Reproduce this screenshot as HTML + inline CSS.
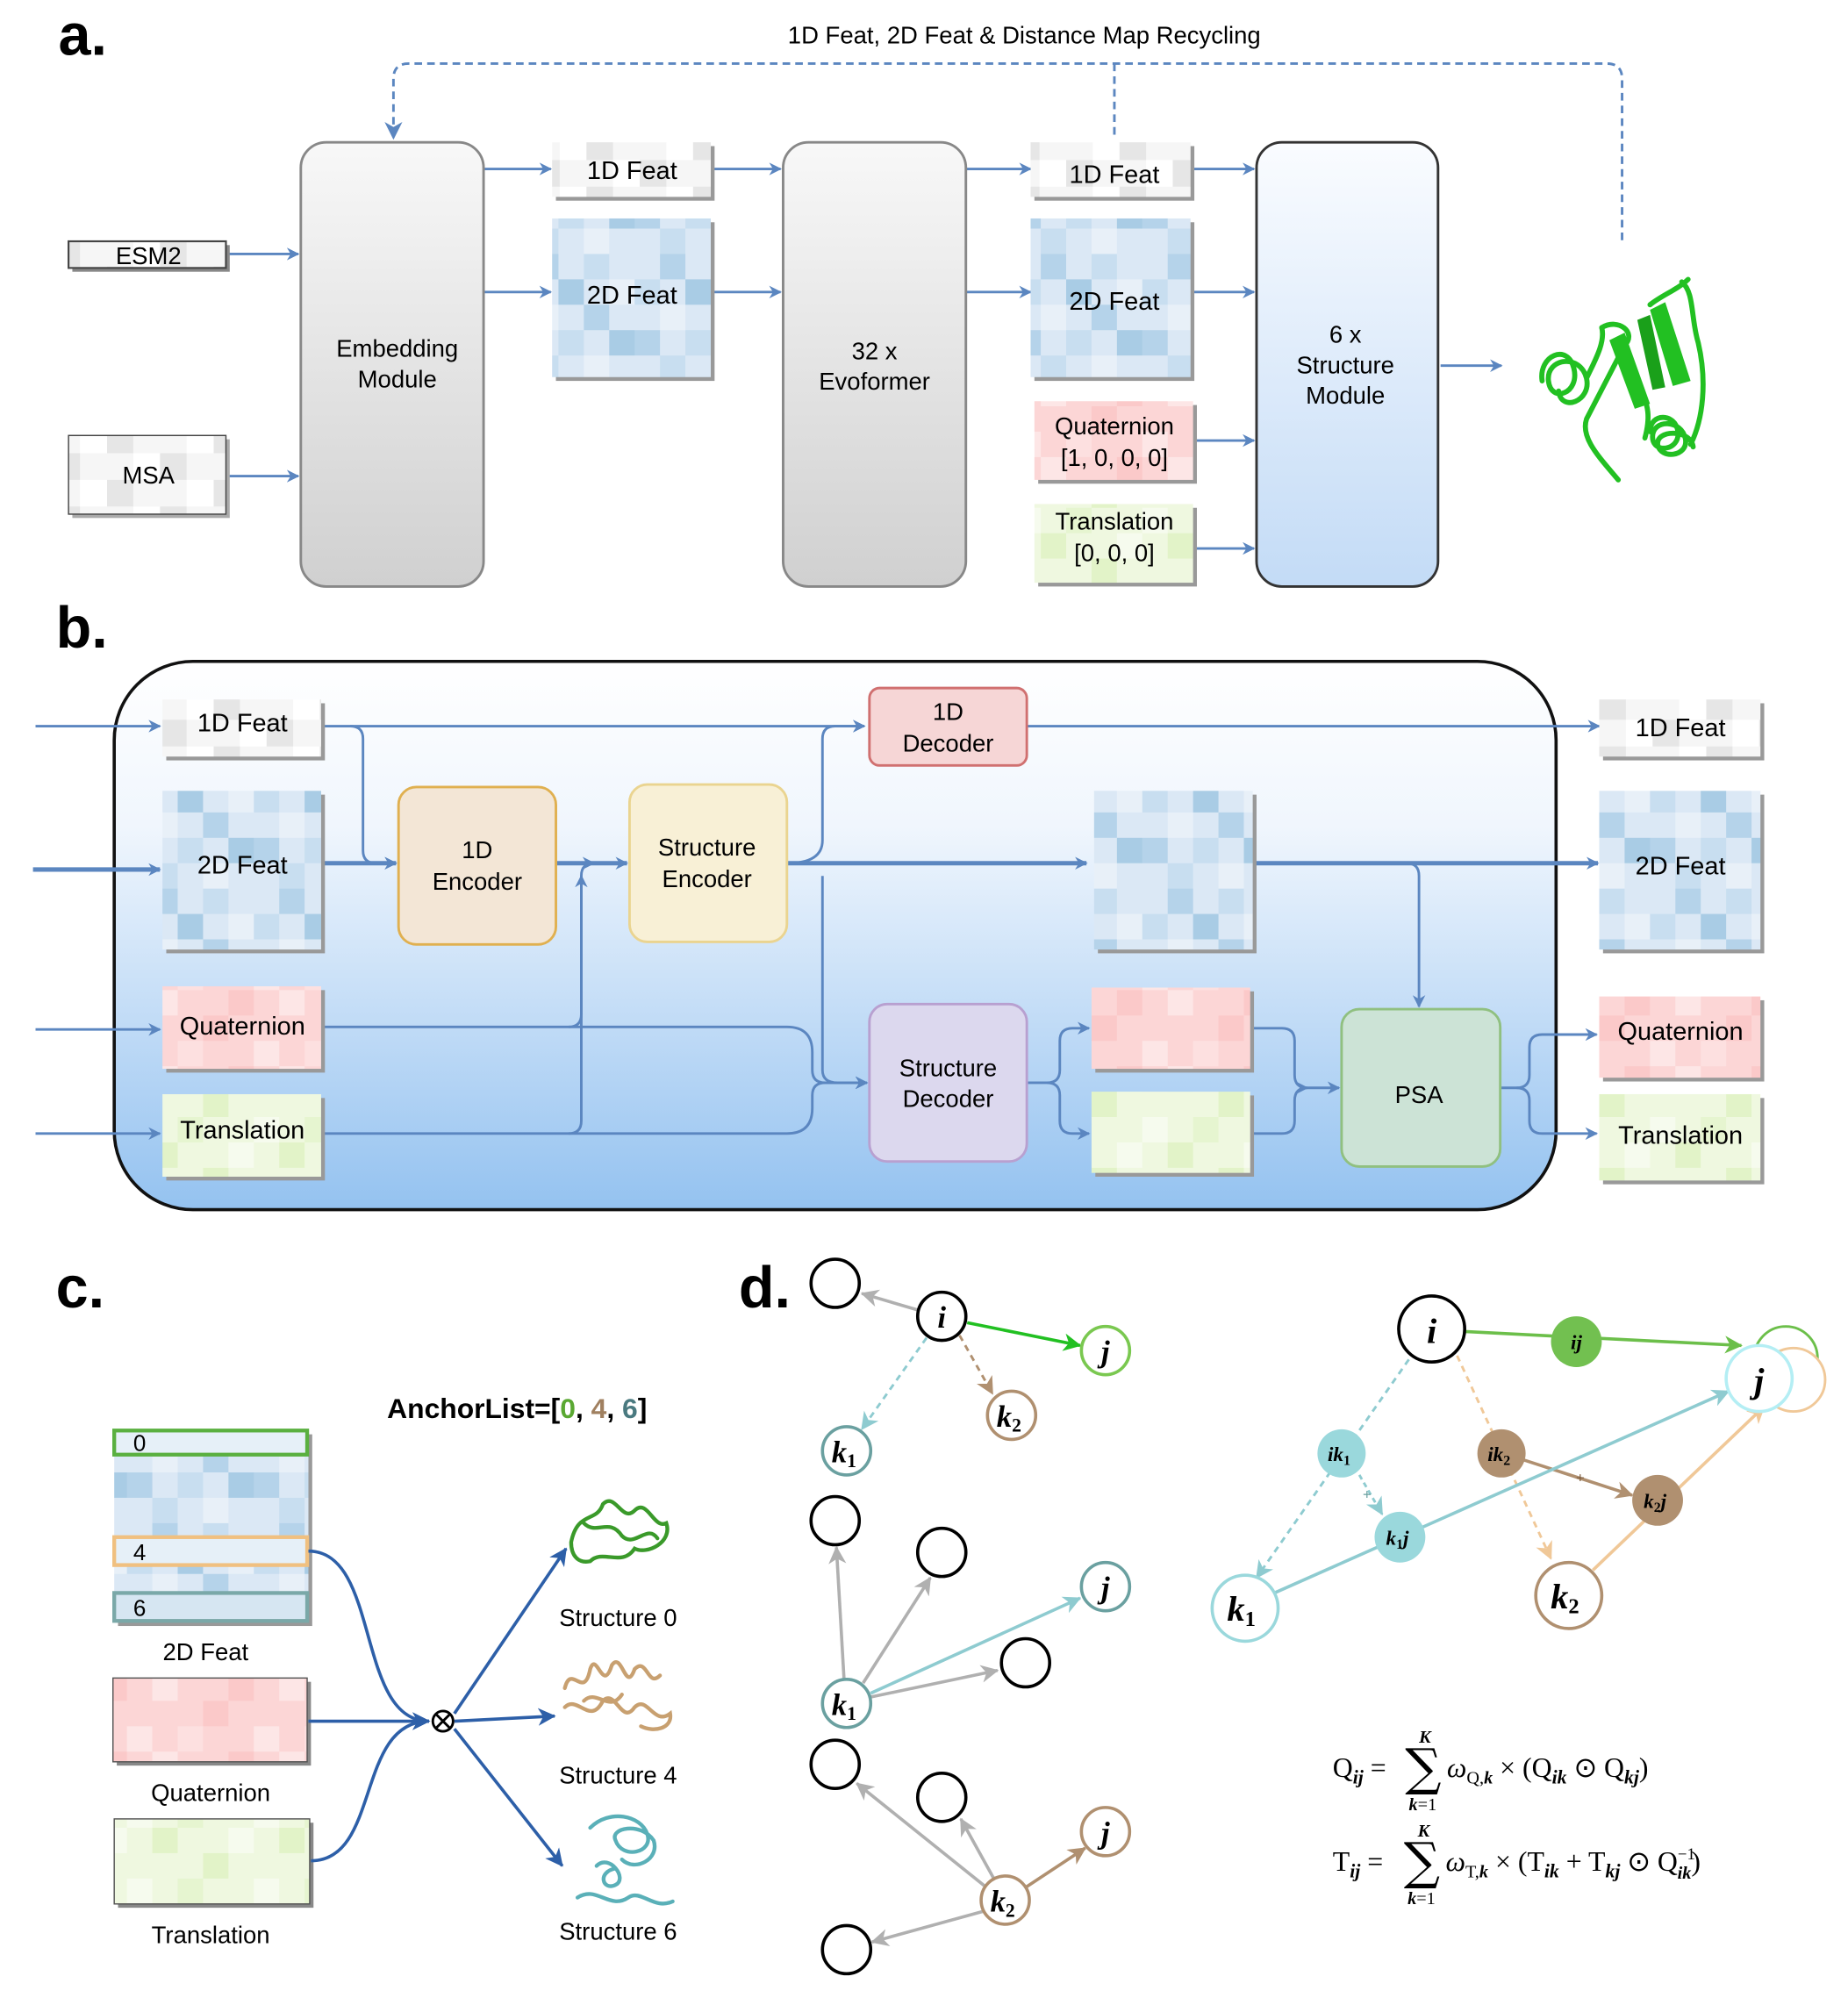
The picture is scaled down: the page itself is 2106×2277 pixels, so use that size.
<!DOCTYPE html>
<html><head><meta charset="utf-8"><style>html,body{margin:0;padding:0;background:#fff}svg{display:block}</style></head><body>
<svg xmlns="http://www.w3.org/2000/svg" width="2106" height="2277" viewBox="0 0 1456 1574" font-family="Liberation Sans, sans-serif">
<defs>
<pattern id="pb" width="100" height="100" patternUnits="userSpaceOnUse">
<rect width="100" height="100" fill="#dbe8f5"/>
<rect x="20" y="0" width="20" height="20" fill="#b5d3ea"/><rect x="60" y="0" width="20" height="20" fill="#c8def0"/>
<rect x="0" y="20" width="20" height="20" fill="#c8def0"/><rect x="40" y="20" width="20" height="20" fill="#a9cce5"/><rect x="80" y="20" width="20" height="20" fill="#e8f0f8"/>
<rect x="20" y="40" width="20" height="20" fill="#e8f0f8"/><rect x="60" y="40" width="20" height="20" fill="#b5d3ea"/>
<rect x="0" y="60" width="20" height="20" fill="#b5d3ea"/><rect x="40" y="60" width="20" height="20" fill="#c8def0"/><rect x="80" y="60" width="20" height="20" fill="#a9cce5"/>
<rect x="20" y="80" width="20" height="20" fill="#c8def0"/><rect x="60" y="80" width="20" height="20" fill="#e8f0f8"/>
</pattern>
<pattern id="pp" width="100" height="60" patternUnits="userSpaceOnUse">
<rect width="100" height="60" fill="#fcd6d6"/>
<rect x="20" y="0" width="20" height="20" fill="#fde6e6"/><rect x="60" y="20" width="20" height="20" fill="#fbc9c9"/>
<rect x="0" y="40" width="20" height="20" fill="#fde6e6"/><rect x="80" y="0" width="20" height="20" fill="#fbc9c9"/><rect x="40" y="40" width="20" height="20" fill="#fde0e0"/>
</pattern>
<pattern id="pg" width="100" height="60" patternUnits="userSpaceOnUse">
<rect width="100" height="60" fill="#eff8e0"/>
<rect x="20" y="0" width="20" height="20" fill="#e2f3c8"/><rect x="60" y="20" width="20" height="20" fill="#e2f3c8"/>
<rect x="0" y="40" width="20" height="20" fill="#f6fbee"/><rect x="80" y="0" width="20" height="20" fill="#f6fbee"/><rect x="40" y="40" width="20" height="20" fill="#e6f5d0"/>
</pattern>
<pattern id="pk" width="84" height="42" patternUnits="userSpaceOnUse">
<rect width="84" height="42" fill="#f6f6f6"/>
<rect x="0" y="0" width="21" height="21" fill="#e6e6e6"/><rect x="42" y="21" width="21" height="21" fill="#e6e6e6"/><rect x="63" y="0" width="21" height="21" fill="#fff"/><rect x="21" y="21" width="21" height="21" fill="#fff"/>
</pattern>
<linearGradient id="ggrey" x1="0" y1="0" x2="0" y2="1"><stop offset="0" stop-color="#f8f8f8"/><stop offset="1" stop-color="#d0d0d0"/></linearGradient>
<linearGradient id="gblue" x1="0" y1="0" x2="0" y2="1"><stop offset="0" stop-color="#fafcff"/><stop offset="1" stop-color="#c3dbf6"/></linearGradient>
<linearGradient id="gbig" x1="0" y1="0" x2="0" y2="1"><stop offset="0" stop-color="#ffffff"/><stop offset="0.3" stop-color="#f0f6fd"/><stop offset="1" stop-color="#94c2f0"/></linearGradient>
<marker id="ab" markerWidth="10" markerHeight="10" refX="9" refY="5" orient="auto" markerUnits="userSpaceOnUse"><path d="M0,0 L10,5 L0,10 L3,5z" fill="#5b86c0"/></marker>
<marker id="ad" markerWidth="14" markerHeight="14" refX="13" refY="7" orient="auto" markerUnits="userSpaceOnUse"><path d="M0,0 L14,7 L0,14 L4,7z" fill="#2d5fa8"/></marker>
<marker id="agr" markerWidth="14" markerHeight="14" refX="13" refY="7" orient="auto" markerUnits="userSpaceOnUse"><path d="M0,0 L14,7 L0,14 L4,7z" fill="#b0b0b0"/></marker>
<marker id="agn" markerWidth="14" markerHeight="14" refX="13" refY="7" orient="auto" markerUnits="userSpaceOnUse"><path d="M0,0 L14,7 L0,14 L4,7z" fill="#22c022"/></marker>
<marker id="agn2" markerWidth="14" markerHeight="14" refX="13" refY="7" orient="auto" markerUnits="userSpaceOnUse"><path d="M0,0 L14,7 L0,14 L4,7z" fill="#6cbf4a"/></marker>
<marker id="atl" markerWidth="14" markerHeight="14" refX="13" refY="7" orient="auto" markerUnits="userSpaceOnUse"><path d="M0,0 L14,7 L0,14 L4,7z" fill="#8ecbd0"/></marker>
<marker id="atn" markerWidth="14" markerHeight="14" refX="13" refY="7" orient="auto" markerUnits="userSpaceOnUse"><path d="M0,0 L14,7 L0,14 L4,7z" fill="#b09070"/></marker>
<marker id="aor" markerWidth="14" markerHeight="14" refX="13" refY="7" orient="auto" markerUnits="userSpaceOnUse"><path d="M0,0 L14,7 L0,14 L4,7z" fill="#f0c898"/></marker>
</defs>
<rect width="1456" height="1574" fill="#fff"/>

<!-- Panel a -->
<text x="46" y="43" font-size="46" font-weight="bold">a.</text>
<text x="807" y="34" font-size="19" text-anchor="middle">1D Feat, 2D Feat &amp; Distance Map Recycling</text>
<path d="M310,108 V62 Q310,50 322,50 H1266 Q1278,50 1278,62 V192" fill="none" stroke="#5b86c0" stroke-width="2" stroke-dasharray="6,4"/>
<path d="M878,50 V108" fill="none" stroke="#5b86c0" stroke-width="2" stroke-dasharray="6,4"/>
<path d="M303,96 L310,110 L317,96 L310,100z" fill="#5b86c0"/>

<g fill="none" stroke="#5b86c0" stroke-width="2" marker-end="url(#ab)">
<path d="M178,200 H235"/><path d="M178,375 H235"/>
<path d="M381,133 H434"/><path d="M381,230 H434"/>
<path d="M560,133 H615"/><path d="M560,230 H615"/>
<path d="M761,133 H812"/><path d="M761,230 H812"/>
<path d="M938,133 H988"/><path d="M938,230 H988"/><path d="M940,347 H988"/><path d="M940,432 H988"/>
<path d="M1135,288 H1183"/>
</g>
<rect x="57" y="193" width="124" height="21" fill="#888"/><rect x="54" y="190" width="124" height="21" fill="url(#pk)" stroke="#444" stroke-width="1.5"/>
<text x="117" y="208" font-size="19" text-anchor="middle">ESM2</text>
<rect x="57" y="346" width="124" height="62" fill="#aaa"/><rect x="54" y="343" width="124" height="62" fill="url(#pk)" stroke="#444" stroke-width="1"/>
<text x="117" y="381" font-size="19" text-anchor="middle">MSA</text>

<rect x="237" y="112" width="144" height="350" rx="20" fill="url(#ggrey)" stroke="#888" stroke-width="2"/>
<text x="313" y="281" font-size="19" text-anchor="middle">Embedding</text><text x="313" y="305" font-size="19" text-anchor="middle">Module</text>
<rect x="617" y="112" width="144" height="350" rx="20" fill="url(#ggrey)" stroke="#888" stroke-width="2"/>
<text x="689" y="283" font-size="19" text-anchor="middle">32 x</text><text x="689" y="307" font-size="19" text-anchor="middle">Evoformer</text>
<rect x="990" y="112" width="143" height="350" rx="20" fill="url(#gblue)" stroke="#333" stroke-width="2"/>
<text x="1060" y="270" font-size="19" text-anchor="middle">6 x</text><text x="1060" y="294" font-size="19" text-anchor="middle">Structure</text><text x="1060" y="318" font-size="19" text-anchor="middle">Module</text>

<g>
<rect x="438" y="115" width="125" height="43" fill="#999"/><rect x="435" y="112" width="125" height="43" fill="url(#pk)"/><text x="498" y="141" font-size="20" text-anchor="middle">1D Feat</text>
<rect x="438" y="175" width="125" height="125" fill="#999"/><rect x="435" y="172" width="125" height="125" fill="url(#pb)"/><text x="498" y="239" font-size="20" text-anchor="middle">2D Feat</text>
<rect x="815" y="115" width="126" height="43" fill="#999"/><rect x="812" y="112" width="126" height="43" fill="url(#pk)"/><text x="878" y="144" font-size="20" text-anchor="middle">1D Feat</text>
<rect x="815" y="175" width="126" height="125" fill="#999"/><rect x="812" y="172" width="126" height="125" fill="url(#pb)"/><text x="878" y="244" font-size="20" text-anchor="middle">2D Feat</text>
<rect x="818" y="319" width="125" height="62" fill="#999"/><rect x="815" y="316" width="125" height="62" fill="url(#pp)"/><text x="878" y="342" font-size="19" text-anchor="middle">Quaternion</text><text x="878" y="367" font-size="19" text-anchor="middle">[1, 0, 0, 0]</text>
<rect x="818" y="400" width="125" height="62" fill="#999"/><rect x="815" y="397" width="125" height="62" fill="url(#pg)"/><text x="878" y="417" font-size="19" text-anchor="middle">Translation</text><text x="878" y="442" font-size="19" text-anchor="middle">[0, 0, 0]</text>
</g>
<!-- protein -->
<g fill="none" stroke="#22c022" stroke-width="4" stroke-linecap="round" stroke-linejoin="round">
<path d="M1215,300 C1212,280 1235,270 1240,290 C1245,310 1222,318 1220,300 C1218,282 1245,278 1250,298 C1254,316 1230,325 1228,308 M1250,298 C1256,285 1265,270 1262,258"/>
<path d="M1262,258 C1275,250 1290,262 1280,272 L1250,330 C1245,345 1260,360 1275,378"/>
<path d="M1325,222 C1335,230 1332,250 1338,270 C1345,300 1342,330 1332,350"/>
<path d="M1300,340 C1300,325 1320,325 1322,340 C1324,355 1302,358 1302,344 C1302,330 1325,330 1328,346 C1330,360 1308,362 1306,350 C1305,338 1332,338 1334,352"/>
<path d="M1290,300 C1300,320 1300,330 1296,345"/>
<path d="M1300,240 C1310,232 1322,228 1330,220"/>
</g>
<path d="M1312,238 L1332,300 L1318,304 L1300,244z" fill="#22c022"/>
<path d="M1280,262 L1300,318 L1288,322 L1268,268z" fill="#22c022"/>
<path d="M1300,248 L1312,305 L1302,307 L1290,252z" fill="#1aa01a"/>

<!-- Panel b -->
<text x="44" y="510" font-size="46" font-weight="bold">b.</text>
<rect x="90" y="521" width="1136" height="432" rx="62" fill="url(#gbig)" stroke="#111" stroke-width="2.5"/>
<g fill="none" stroke="#5b86c0" stroke-width="2" marker-end="url(#ab)">
<path d="M28,572 H126"/><path d="M28,811 H126"/><path d="M28,893 H126"/>
<path d="M253,572 H681"/><path d="M809,572 H1260"/>
<path d="M276,572 Q286,572 286,582 V670 Q286,680 296,680 H312"/>
<path d="M253,809 H620 Q640,809 640,829 V843 Q640,853 650,853 H683"/>
<path d="M253,893 H620 Q640,893 640,873 V863 Q640,853 650,853 H683"/>
<path d="M620,680 Q648,680 648,662 V582 Q648,572 658,572 H681"/>
<path d="M648,690 V843 Q648,853 660,853 H683"/>
<path d="M809,853 H825 Q835,853 835,843 V820 Q835,810 845,810 H858"/>
<path d="M825,853 Q835,853 835,863 V883 Q835,893 845,893 H858"/>
<path d="M985,810 H1010 Q1020,810 1020,820 V847 Q1020,857 1030,857 H1055"/>
<path d="M985,893 H1010 Q1020,893 1020,883 V867 Q1020,857 1030,857"/>
<path d="M1182,857 H1195 Q1205,857 1205,847 V825 Q1205,815 1215,815 H1258"/>
<path d="M1195,857 Q1205,857 1205,867 V883 Q1205,893 1215,893 H1258"/>
<path d="M448,809 Q458,809 458,799 V690 Q458,680 468,680"/>
<path d="M448,893 Q458,893 458,883 V690"/>
<path d="M1108,680 Q1118,680 1118,690 V793"/>
</g>
<g fill="none" stroke="#5b86c0" stroke-width="3.5" marker-end="url(#ab)">
<path d="M26,685 H126"/><path d="M253,680 H312"/><path d="M438,680 H494"/><path d="M620,680 H856"/><path d="M987,680 H1259"/>
</g>
<g>
<rect x="131" y="554" width="125" height="45" fill="#999"/><rect x="128" y="551" width="125" height="45" fill="url(#pk)"/><text x="191" y="576" font-size="20" text-anchor="middle">1D Feat</text>
<rect x="131" y="626" width="125" height="125" fill="#999"/><rect x="128" y="623" width="125" height="125" fill="url(#pb)"/><text x="191" y="688" font-size="20" text-anchor="middle">2D Feat</text>
<rect x="131" y="780" width="125" height="65" fill="#999"/><rect x="128" y="777" width="125" height="65" fill="url(#pp)"/><text x="191" y="815" font-size="20" text-anchor="middle">Quaternion</text>
<rect x="131" y="865" width="125" height="65" fill="#999"/><rect x="128" y="862" width="125" height="65" fill="url(#pg)"/><text x="191" y="897" font-size="20" text-anchor="middle">Translation</text>
<rect x="865" y="626" width="125" height="125" fill="#999"/><rect x="862" y="623" width="125" height="125" fill="url(#pb)"/>
<rect x="863" y="781" width="125" height="64" fill="#999"/><rect x="860" y="778" width="125" height="64" fill="url(#pp)"/>
<rect x="863" y="863" width="125" height="64" fill="#999"/><rect x="860" y="860" width="125" height="64" fill="url(#pg)"/>
<rect x="1263" y="554" width="127" height="45" fill="#999"/><rect x="1260" y="551" width="127" height="45" fill="url(#pk)"/><text x="1324" y="580" font-size="20" text-anchor="middle">1D Feat</text>
<rect x="1263" y="626" width="127" height="125" fill="#999"/><rect x="1260" y="623" width="127" height="125" fill="url(#pb)"/><text x="1324" y="689" font-size="20" text-anchor="middle">2D Feat</text>
<rect x="1263" y="788" width="127" height="64" fill="#999"/><rect x="1260" y="785" width="127" height="64" fill="url(#pp)"/><text x="1324" y="819" font-size="20" text-anchor="middle">Quaternion</text>
<rect x="1263" y="865" width="127" height="68" fill="#999"/><rect x="1260" y="862" width="127" height="68" fill="url(#pg)"/><text x="1324" y="901" font-size="20" text-anchor="middle">Translation</text>
</g>
<rect x="314" y="620" width="124" height="124" rx="14" fill="#f3e6d6" stroke="#e0b050" stroke-width="2"/>
<text x="376" y="676" font-size="19" text-anchor="middle">1D</text><text x="376" y="701" font-size="19" text-anchor="middle">Encoder</text>
<rect x="496" y="618" width="124" height="124" rx="14" fill="#f8f0d6" stroke="#ead490" stroke-width="2"/>
<text x="557" y="674" font-size="19" text-anchor="middle">Structure</text><text x="557" y="699" font-size="19" text-anchor="middle">Encoder</text>
<rect x="685" y="542" width="124" height="61" rx="8" fill="#f6d6d6" stroke="#d07070" stroke-width="2"/>
<text x="747" y="567" font-size="19" text-anchor="middle">1D</text><text x="747" y="592" font-size="19" text-anchor="middle">Decoder</text>
<rect x="685" y="791" width="124" height="124" rx="14" fill="#dcd8ee" stroke="#b8a0d0" stroke-width="2"/>
<text x="747" y="848" font-size="19" text-anchor="middle">Structure</text><text x="747" y="872" font-size="19" text-anchor="middle">Decoder</text>
<rect x="1057" y="795" width="125" height="124" rx="14" fill="#cce3d6" stroke="#90c080" stroke-width="2"/>
<text x="1118" y="869" font-size="19" text-anchor="middle">PSA</text>

<!-- Panel c -->
<text x="44" y="1030" font-size="46" font-weight="bold">c.</text>
<text x="305" y="1117" font-size="22" font-weight="bold">AnchorList=[<tspan fill="#5aa832">0</tspan>, <tspan fill="#a08060">4</tspan>, <tspan fill="#4a7a80">6</tspan>]</text>
<rect x="93" y="1130" width="153" height="151" fill="#999"/><rect x="90" y="1127" width="153" height="151" fill="url(#pb)"/>
<rect x="90" y="1127" width="152" height="19" fill="#e6f0f8" stroke="#5ab040" stroke-width="3"/><text x="105" y="1143" font-size="18">0</text>
<rect x="90" y="1211" width="152" height="22" fill="#e6f0f8" stroke="#f0c080" stroke-width="3"/><text x="105" y="1229" font-size="18">4</text>
<rect x="90" y="1255" width="152" height="22" fill="#d6e6f2" stroke="#7aa8a8" stroke-width="3"/><text x="105" y="1273" font-size="18">6</text>
<text x="162" y="1308" font-size="19" text-anchor="middle">2D Feat</text>
<rect x="92" y="1325" width="153" height="66" fill="#888"/><rect x="89" y="1322" width="153" height="66" fill="url(#pp)" stroke="#555"/>
<text x="166" y="1419" font-size="19" text-anchor="middle">Quaternion</text>
<rect x="93" y="1436" width="154" height="67" fill="#888"/><rect x="90" y="1433" width="154" height="67" fill="url(#pg)" stroke="#555"/>
<text x="166" y="1531" font-size="19" text-anchor="middle">Translation</text>
<g fill="none" stroke="#2d5fa8" stroke-width="2.5">
<path d="M243,1222 C300,1222 280,1356 338,1356" marker-end="url(#ad)"/>
<path d="M243,1356 H338" marker-end="url(#ad)"/>
<path d="M245,1466 C300,1466 280,1356 338,1356" marker-end="url(#ad)"/>
<path d="M358,1350 L446,1220" marker-end="url(#ad)"/>
<path d="M358,1356 L437,1352" marker-end="url(#ad)"/>
<path d="M358,1362 L443,1470" marker-end="url(#ad)"/>
</g>
<circle cx="349" cy="1356" r="8" fill="#fff" stroke="#000" stroke-width="2"/>
<path d="M344,1351 L354,1361 M354,1351 L344,1361" stroke="#000" stroke-width="2"/>
<g fill="none" stroke-width="3" stroke-linecap="round">
<path stroke="#3a9a2a" d="M450,1215 C455,1190 470,1200 475,1185 C485,1175 490,1200 500,1190 C510,1180 515,1205 525,1200 C530,1215 510,1225 500,1220 C490,1235 475,1220 465,1230 C455,1232 450,1225 450,1215 M460,1200 C470,1210 480,1195 490,1210 C500,1220 510,1200 518,1212"/>
<path stroke="#c8a070" d="M445,1330 C450,1310 460,1340 465,1315 C470,1300 475,1335 482,1312 C490,1300 493,1335 500,1315 C510,1305 510,1330 520,1320 M445,1345 C455,1335 465,1360 475,1340 C485,1330 490,1360 500,1345 C510,1335 515,1360 528,1350 C530,1362 515,1365 505,1360 M460,1340 C470,1330 480,1350 490,1335"/>
<path stroke="#5ab0b8" d="M465,1440 C480,1425 505,1430 510,1445 C515,1460 490,1465 485,1450 C480,1440 505,1435 515,1450 C520,1465 500,1475 490,1465 M470,1470 C480,1460 495,1480 485,1485 C475,1490 470,1475 485,1472 M455,1495 C470,1485 480,1505 495,1495 C505,1488 515,1505 530,1498"/>
</g>
<text x="487" y="1281" font-size="19" text-anchor="middle">Structure 0</text>
<text x="487" y="1405" font-size="19" text-anchor="middle">Structure 4</text>
<text x="487" y="1528" font-size="19" text-anchor="middle">Structure 6</text>

<!-- Panel d -->
<text x="582" y="1030" font-size="46" font-weight="bold">d.</text>
<g font-family="Liberation Serif, serif" font-style="italic" font-weight="bold" text-anchor="middle">
<path d="M723,1032 L679,1019" stroke="#b0b0b0" stroke-width="2.5" marker-end="url(#agr)"/>
<path d="M762,1042 L851,1060" stroke="#22c022" stroke-width="2.5" marker-end="url(#agn)"/>
<path d="M756,1052 L782,1098" stroke="#b09070" stroke-width="2" stroke-dasharray="5,4" marker-end="url(#atn)"/>
<path d="M730,1054 L679,1126" stroke="#8ecbd0" stroke-width="2" stroke-dasharray="5,4" marker-end="url(#atl)"/>
<circle cx="658" cy="1011" r="19" fill="#fff" stroke="#000" stroke-width="2.5"/>
<circle cx="742" cy="1037" r="19" fill="#fff" stroke="#000" stroke-width="2.5"/><text x="742" y="1046" font-size="24">i</text>
<circle cx="871" cy="1064" r="19" fill="#fff" stroke="#7ac850" stroke-width="2.5"/><text x="871" y="1073" font-size="24">j</text>
<circle cx="797" cy="1115" r="19" fill="#fff" stroke="#b09070" stroke-width="2.5"/><text x="795" y="1124" font-size="24">k<tspan font-size="15" font-style="normal" dy="4">2</tspan></text>
<circle cx="667" cy="1143" r="19" fill="#fff" stroke="#6aa0a0" stroke-width="2.5"/><text x="665" y="1152" font-size="24">k<tspan font-size="15" font-style="normal" dy="4">1</tspan></text>
<path d="M665,1323 L659,1219" stroke="#b0b0b0" stroke-width="2.5" marker-end="url(#agr)"/>
<path d="M680,1326 L733,1243" stroke="#b0b0b0" stroke-width="2.5" marker-end="url(#agr)"/>
<path d="M686,1337 L786,1316" stroke="#b0b0b0" stroke-width="2.5" marker-end="url(#agr)"/>
<path d="M686,1334 L851,1259" stroke="#8ecbd0" stroke-width="2.5" marker-end="url(#atl)"/>
<circle cx="658" cy="1198" r="19" fill="#fff" stroke="#000" stroke-width="2.5"/>
<circle cx="742" cy="1223" r="19" fill="#fff" stroke="#000" stroke-width="2.5"/>
<circle cx="808" cy="1310" r="19" fill="#fff" stroke="#000" stroke-width="2.5"/>
<circle cx="871" cy="1250" r="19" fill="#fff" stroke="#6aa0a0" stroke-width="2.5"/><text x="871" y="1259" font-size="24">j</text>
<circle cx="667" cy="1342" r="19" fill="#fff" stroke="#6aa0a0" stroke-width="2.5"/><text x="665" y="1351" font-size="24">k<tspan font-size="15" font-style="normal" dy="4">1</tspan></text>
<path d="M776,1486 L675,1405" stroke="#b0b0b0" stroke-width="2.5" marker-end="url(#agr)"/>
<path d="M783,1480 L757,1433" stroke="#b0b0b0" stroke-width="2.5" marker-end="url(#agr)"/>
<path d="M774,1506 L687,1530" stroke="#b0b0b0" stroke-width="2.5" marker-end="url(#agr)"/>
<path d="M808,1487 L855,1456" stroke="#b09070" stroke-width="2.5" marker-end="url(#atn)"/>
<circle cx="658" cy="1390" r="19" fill="#fff" stroke="#000" stroke-width="2.5"/>
<circle cx="742" cy="1416" r="19" fill="#fff" stroke="#000" stroke-width="2.5"/>
<circle cx="667" cy="1536" r="19" fill="#fff" stroke="#000" stroke-width="2.5"/>
<circle cx="871" cy="1443" r="19" fill="#fff" stroke="#b09070" stroke-width="2.5"/><text x="871" y="1452" font-size="24">j</text>
<circle cx="792" cy="1497" r="19" fill="#fff" stroke="#b09070" stroke-width="2.5"/><text x="790" y="1506" font-size="24">k<tspan font-size="15" font-style="normal" dy="4">2</tspan></text>
<circle cx="1407" cy="1070" r="25" fill="none" stroke="#6cbf4a" stroke-width="2"/>
<circle cx="1413" cy="1087" r="25" fill="#fff" stroke="#f0c898" stroke-width="2"/>
<path d="M1154,1049 L1372,1060" stroke="#6cbf4a" stroke-width="2.5" marker-end="url(#agn2)"/>
<path d="M1110,1071 L990,1243" stroke="#8ecbd0" stroke-width="2" stroke-dasharray="5,4" marker-end="url(#atl)"/>
<path d="M1071,1162 L1089,1193" stroke="#8ecbd0" stroke-width="2" stroke-dasharray="4,3" marker-end="url(#atl)"/>
<path d="M1148,1068 L1222,1228" stroke="#f0c898" stroke-width="2" stroke-dasharray="5,4" marker-end="url(#aor)"/>
<path d="M1200,1150 L1286,1178" stroke="#b09070" stroke-width="2.5" marker-end="url(#atn)"/>
<path d="M1004,1255 L1362,1096" stroke="#8ecbd0" stroke-width="2.5" marker-end="url(#atl)"/>
<path d="M1255,1237 L1390,1108" stroke="#f0c898" stroke-width="2.5" marker-end="url(#aor)"/>
<circle cx="1128" cy="1047" r="26" fill="#fff" stroke="#000" stroke-width="2.5"/><text x="1128" y="1058" font-size="28">i</text>
<circle cx="1386" cy="1086" r="26" fill="#fff" stroke="#b4eef4" stroke-width="2.5"/><text x="1386" y="1097" font-size="28">j</text>
<circle cx="1242" cy="1057" r="20" fill="#72c050"/><text x="1242" y="1063" font-size="16">ij</text>
<circle cx="1057" cy="1145" r="19" fill="#9ad8dc"/><text x="1055" y="1151" font-size="16">ik<tspan font-size="11" font-style="normal" dy="3">1</tspan></text>
<circle cx="1183" cy="1145" r="19" fill="#b09070"/><text x="1181" y="1151" font-size="16">ik<tspan font-size="11" font-style="normal" dy="3">2</tspan></text>
<circle cx="1103" cy="1211" r="20" fill="#9ad8dc"/><text x="1101" y="1217" font-size="16">k<tspan font-size="11" font-style="normal" dy="3">1</tspan><tspan dy="-3">j</tspan></text>
<circle cx="1306" cy="1182" r="20" fill="#b09070"/><text x="1304" y="1188" font-size="16">k<tspan font-size="11" font-style="normal" dy="3">2</tspan><tspan dy="-3">j</tspan></text>
<text x="1077" y="1181" font-size="12" font-style="normal" fill="#6aa0a0">+</text>
<text x="1245" y="1168" font-size="12" font-style="normal" fill="#806040">+</text>
<circle cx="981" cy="1267" r="26" fill="#fff" stroke="#9ad8dc" stroke-width="2.5"/><text x="978" y="1277" font-size="28">k<tspan font-size="17" font-style="normal" dy="4">1</tspan></text>
<circle cx="1236" cy="1257" r="26" fill="#fff" stroke="#b09070" stroke-width="2.5"/><text x="1233" y="1267" font-size="28">k<tspan font-size="17" font-style="normal" dy="4">2</tspan></text>
</g>
<g font-family="Liberation Serif, serif" font-size="22">
<text x="1050" y="1400">Q<tspan font-size="15" font-style="italic" font-weight="bold" dy="5">ij</tspan><tspan dy="-5"> = </tspan></text>
<text x="1107" y="1406" font-family="DejaVu Serif, serif" font-size="40">∑</text>
<text x="1118" y="1373" font-size="14" font-style="italic" font-weight="bold">K</text>
<text x="1110" y="1426" font-size="14"><tspan font-style="italic" font-weight="bold">k</tspan>=1</text>
<text x="1140" y="1400"><tspan font-style="italic">ω</tspan><tspan font-size="14" dy="5">Q,<tspan font-style="italic" font-weight="bold">k</tspan></tspan><tspan dy="-5"> × (Q</tspan><tspan font-size="15" font-style="italic" font-weight="bold" dy="5">ik</tspan><tspan dy="-5"> ⊙ Q</tspan><tspan font-size="15" font-style="italic" font-weight="bold" dy="5">kj</tspan><tspan dy="-5">)</tspan></text>
<text x="1050" y="1474">T<tspan font-size="15" font-style="italic" font-weight="bold" dy="5">ij</tspan><tspan dy="-5"> = </tspan></text>
<text x="1106" y="1480" font-family="DejaVu Serif, serif" font-size="40">∑</text>
<text x="1117" y="1447" font-size="14" font-style="italic" font-weight="bold">K</text>
<text x="1109" y="1500" font-size="14"><tspan font-style="italic" font-weight="bold">k</tspan>=1</text>
<text x="1139" y="1474"><tspan font-style="italic">ω</tspan><tspan font-size="14" dy="5">T,<tspan font-style="italic" font-weight="bold">k</tspan></tspan><tspan dy="-5"> × (T</tspan><tspan font-size="15" font-style="italic" font-weight="bold" dy="5">ik</tspan><tspan dy="-5"> + T</tspan><tspan font-size="15" font-style="italic" font-weight="bold" dy="5">kj</tspan><tspan dy="-5"> ⊙ Q</tspan><tspan font-size="13" dy="-9">−1</tspan><tspan font-size="14" font-style="italic" font-weight="bold" dx="-14" dy="15">ik</tspan><tspan dy="-6">)</tspan></text>
</g>
</svg>
</body></html>
